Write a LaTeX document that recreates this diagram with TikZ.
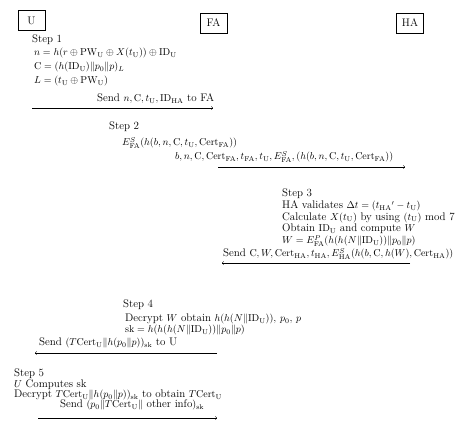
\documentclass[tikz,border=0pt]{standalone}
\usepackage{amsmath,amssymb}
\DeclareMathSizes{11}{10}{7}{5}
\newcommand{\rmU}{\mathrm{U}}
\newcommand{\rmFA}{\mathrm{FA}}
\newcommand{\rmHA}{\mathrm{HA}}

\begin{document}
\begin{tikzpicture}[x=1pt,y=-1pt,
    font=\fontsize{11}{13}\selectfont,
    party/.style={draw, inner sep=2pt, minimum width=27pt, minimum height=20pt},
    txt/.style={anchor=base west, inner sep=0pt},
    msg/.style={->, thin}]
  \useasboundingbox (0,0) rectangle (474,443);
  % parties
  \node[party] (u) at (31.5,20.5) {U};
  \node[party] (fa) at (213.5,23) {FA};
  \node[party] (ha) at (410,23) {HA};

  % step 1
  \node[txt] (s1) at (32,43) {Step 1};
  \node[txt] (s1n) at (34,56) {$n = h(r \oplus \mathrm{PW}_{\rmU} \oplus X(t_{\rmU})) \oplus \mathrm{ID}_{\rmU}$};
  \node[txt] (s1c) at (34,70) {$\mathrm{C} = (h(\mathrm{ID}_{\rmU})\|p_0\|p)_L$};
  \node[txt] (s1l) at (34,84) {$L = (t_{\rmU} \oplus \mathrm{PW}_{\rmU})$};
  \node[txt] (m1) at (97,102) {Send $n, \mathrm{C}, t_{\rmU}, \mathrm{ID}_{\rmHA}$ to FA};
  \coordinate (m1a) at (32,108);
  \coordinate (m1b) at (213,108);
  \draw[msg] (m1a) -- (m1b);

  % step 2
  \node[txt] (s2) at (109,130) {Step 2};
  \node[txt] (s2e) at (122,146) {$E^{S}_{\rmFA}(h(b, n, \mathrm{C}, t_{\rmU}, \mathrm{Cert}_{\rmFA}))$};
  \node[txt] (m2) at (175,160) {$b, n, \mathrm{C}, \mathrm{Cert}_{\rmFA}, t_{\rmFA}, t_{\rmU}, E^{S}_{\rmFA}, (h(b, n, \mathrm{C}, t_{\rmU}, \mathrm{Cert}_{\rmFA}))$};
  \coordinate (m2a) at (218,167);
  \coordinate (m2b) at (405,167);
  \draw[msg] (m2a) -- (m2b);

  % step 3
  \node[txt] (s3) at (282,197) {Step 3};
  \node[txt] (s3v) at (282,209) {HA validates $\Delta t = ({t_{\rmHA}}' - t_{\rmU})$};
  \node[txt] (s3x) at (282,220.5) {Calculate $X(t_{\rmU})$ by using $(t_{\rmU})$ mod 7};
  \node[txt] (s3o) at (282,232) {Obtain $\mathrm{ID}_{\rmU}$ and compute $W$};
  \node[txt] (s3w) at (282,244) {$W = E^{P}_{\rmFA}(h(h(N\|\mathrm{ID}_{\rmU}))\|p_0\|p)$};
  \node[txt] (m3) at (223,257) {Send $\mathrm{C}, W, \mathrm{Cert}_{\rmHA}, t_{\rmHA}, E^{S}_{\rmHA}(h(b, \mathrm{C}, h(W), \mathrm{Cert}_{\rmHA}))$};
  \coordinate (m3a) at (410,263);
  \coordinate (m3b) at (222,263);
  \draw[msg] (m3a) -- (m3b);

  % step 4
  \node[txt] (s4) at (123,308) {Step 4};
  \node[txt] (s4d) at (125,322) {Decrypt $W$ obtain $h(h(N\|\mathrm{ID}_{\rmU}))$, $p_0$, $p$};
  \node[txt] (s4k) at (125,333) {$\mathrm{sk} = h(h(h(N\|\mathrm{ID}_{\rmU}))\|p_0\|p)$};
  \node[txt] (m4) at (39,346) {Send $(T\mathrm{Cert}_{\rmU}\|h(p_0\|p))_{\mathrm{sk}}$ to U};
  \coordinate (m4a) at (217,353);
  \coordinate (m4b) at (35,353);
  \draw[msg] (m4a) -- (m4b);

  % step 5
  \node[txt] (s5) at (14,377) {Step 5};
  \node[txt] (s5u) at (14,387.5) {$U$ Computes sk};
  \node[txt] (s5d) at (14,398) {Decrypt $T\mathrm{Cert}_{\rmU}\|h(p_0\|p))_{\mathrm{sk}}$ to obtain $T\mathrm{Cert}_{\rmU}$};
  \node[txt] (m5) at (60,408) {Send $(p_0\|T\mathrm{Cert}_{\rmU}\|$ other info$)_{\mathrm{sk}}$};
  \coordinate (m5a) at (38,418);
  \coordinate (m5b) at (217,418);
  \draw[msg] (m5a) -- (m5b);
\end{tikzpicture}
\end{document}
